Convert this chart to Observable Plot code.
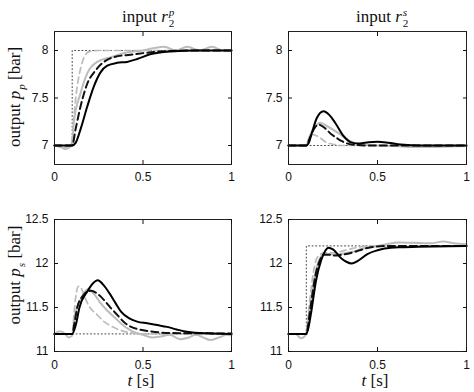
<!DOCTYPE html>
<html><head><meta charset="utf-8">
<script src="https://cdn.jsdelivr.net/npm/d3@7"></script>
<script src="https://cdn.jsdelivr.net/npm/@observablehq/plot@0.6"></script>
<style>
body{margin:0;background:#fff}
#fig{position:relative;width:474px;height:392px;overflow:hidden;background:#fff}
.panel{position:absolute}
.lbl{position:absolute;font-family:"Liberation Serif","Times New Roman",serif;font-size:17px;color:#111;white-space:nowrap;line-height:16px;height:16px}
.ss{display:inline-block;vertical-align:-0.5em;font-size:0.66em;line-height:1;margin-left:1px}
.ss span{display:block;line-height:1}
.it{font-style:italic}
</style></head>
<body><div id="fig"></div>
<script>
// ---- data (t [s], value) ----
const xTicks = [0, 0.5, 1];
const yTicksPp = [7, 7.5, 8];
const yTicksPs = [11, 11.5, 12, 12.5];
const domainPp = [6.8, 8.2];
const domainPs = [11, 12.5];

// Panel: input r2^p, output p_p
const refTL = [[0,7],[0.1,7],[0.1,8],[1,8]];
const blackTL = [[0,7],[0.1,7],[0.12,7.03],[0.147,7.17],[0.185,7.41],[0.222,7.62],[0.26,7.77],[0.298,7.84],[0.354,7.87],[0.41,7.88],[0.467,7.91],[0.54,7.96],[0.655,7.99],[0.8,8],[1,8]];
const blackDashTL = [[0,7],[0.1,7],[0.119,7.17],[0.147,7.41],[0.185,7.65],[0.232,7.79],[0.279,7.88],[0.335,7.93],[0.45,7.96],[0.6,7.99],[0.8,8],[1,8]];
const grayTL = [[0,7],[0.03,6.99],[0.062,6.96],[0.09,6.99],[0.1,7.05],[0.109,7.24],[0.147,7.55],[0.185,7.76],[0.241,7.88],[0.32,7.93],[0.41,7.98],[0.5,8.0],[0.55,8.02],[0.62,8.04],[0.685,8.0],[0.75,8.04],[0.82,8.0],[0.89,8.04],[0.95,8.0],[1,8.0]];
const grayDashTL = [[0,7],[0.05,6.98],[0.09,6.99],[0.1,7.05],[0.11,7.3],[0.12,7.5],[0.135,7.7],[0.15,7.83],[0.17,7.94],[0.2,7.99],[0.25,8],[1,8]];

// Panel: input r2^s, output p_p
const refTR = [[0,7],[1,7]];
const blackTR = [[0,7],[0.1,7],[0.112,7.02],[0.131,7.13],[0.159,7.29],[0.197,7.36],[0.23,7.32],[0.262,7.24],[0.309,7.1],[0.356,7.03],[0.4,7.02],[0.45,7.035],[0.5,7.04],[0.56,7.03],[0.63,7.01],[0.75,7.0],[1,7]];
const blackDashTR = [[0,7],[0.1,7],[0.12,7.08],[0.145,7.18],[0.169,7.22],[0.2,7.19],[0.234,7.13],[0.27,7.08],[0.3,7.045],[0.356,7.01],[0.45,7.0],[1,7]];
const grayTR = [[0,7],[0.1,7],[0.12,7.1],[0.15,7.2],[0.178,7.24],[0.22,7.2],[0.281,7.13],[0.346,7.045],[0.4,7.01],[0.5,7.0],[0.6,6.995],[0.7,6.985],[0.8,6.985],[0.9,6.99],[1,6.995]];
const grayDashTR = [[0,7],[0.1,7],[0.115,7.08],[0.137,7.115],[0.16,7.1],[0.178,7.08],[0.215,7.03],[0.26,7.01],[0.3,7.0],[1,7]];

// Panel: input r2^p, output p_s
const refBL = [[0,11.2],[1,11.2]];
const blackBL = [[0,11.2],[0.1,11.2],[0.12,11.3],[0.141,11.5],[0.188,11.69],[0.215,11.77],[0.245,11.81],[0.275,11.76],[0.311,11.66],[0.345,11.55],[0.377,11.45],[0.42,11.38],[0.467,11.34],[0.524,11.32],[0.58,11.3],[0.636,11.28],[0.69,11.25],[0.73,11.23],[0.82,11.21],[1,11.2]];
const blackDashBL = [[0,11.2],[0.1,11.2],[0.115,11.35],[0.131,11.52],[0.16,11.63],[0.185,11.68],[0.207,11.69],[0.24,11.66],[0.282,11.58],[0.32,11.49],[0.357,11.41],[0.395,11.33],[0.433,11.28],[0.48,11.25],[0.54,11.23],[0.65,11.21],[1,11.205]];
const grayBL = [[0,11.2],[0.03,11.23],[0.06,11.2],[0.08,11.16],[0.1,11.18],[0.113,11.39],[0.15,11.6],[0.188,11.71],[0.22,11.66],[0.264,11.54],[0.3,11.46],[0.339,11.39],[0.38,11.31],[0.414,11.26],[0.45,11.22],[0.5,11.19],[0.55,11.16],[0.6,11.17],[0.65,11.19],[0.71,11.14],[0.76,11.16],[0.8,11.19],[0.84,11.16],[0.88,11.13],[0.93,11.16],[0.975,11.19],[1,11.18]];
const grayDashBL = [[0,11.2],[0.1,11.2],[0.11,11.42],[0.12,11.62],[0.135,11.74],[0.15,11.72],[0.17,11.62],[0.2,11.5],[0.24,11.42],[0.28,11.34],[0.32,11.29],[0.36,11.25],[0.41,11.22],[0.5,11.2],[1,11.2]];

// Panel: input r2^s, output p_s
const refBR = [[0,11.2],[0.1,11.2],[0.1,12.2],[1,12.2]];
const blackBR = [[0,11.2],[0.1,11.2],[0.112,11.27],[0.127,11.44],[0.155,11.81],[0.184,12.04],[0.205,12.14],[0.225,12.18],[0.25,12.16],[0.296,12.06],[0.325,12.02],[0.355,12.0],[0.39,12.03],[0.446,12.11],[0.5,12.15],[0.539,12.17],[0.62,12.185],[0.73,12.19],[1,12.2]];
const blackDashBR = [[0,11.2],[0.1,11.2],[0.12,11.45],[0.15,11.85],[0.175,12.03],[0.2,12.1],[0.23,12.1],[0.26,12.09],[0.3,12.1],[0.35,12.12],[0.4,12.15],[0.45,12.18],[0.55,12.2],[1,12.2]];
const grayBR = [[0,11.2],[0.04,11.2],[0.07,11.15],[0.09,11.17],[0.1,11.22],[0.12,11.5],[0.15,11.88],[0.18,12.07],[0.2,12.11],[0.258,12.1],[0.3,12.11],[0.352,12.13],[0.42,12.17],[0.483,12.19],[0.55,12.22],[0.62,12.24],[0.7,12.235],[0.8,12.23],[0.87,12.25],[0.93,12.23],[1,12.22]];
const grayDashBR = [[0,11.2],[0.1,11.2],[0.115,11.5],[0.14,11.9],[0.165,12.08],[0.2,12.12],[0.25,12.12],[0.3,12.14],[0.38,12.18],[0.45,12.2],[1,12.2]];

// ---- drawing ----
const fig = document.getElementById("fig");
const X = d => d[0], Y = d => d[1];
const fmt = d => String(d);

function panel(ref, gDash, gSolid, bDash, bSolid, yDomain, yTicks, opts) {
  const svg = Plot.plot({
    width: 237, height: 196,
    marginLeft: opts.ml, marginRight: opts.mr, marginTop: opts.mt, marginBottom: opts.mb,
    x: {domain: [0, 1]},
    y: {domain: yDomain},
    style: {fontFamily: "'Liberation Sans', Arial, sans-serif", fontSize: "12px", color: "#111", background: "transparent", overflow: "visible"},
    marks: [
      Plot.line(ref, {x: X, y: Y, stroke: "#444", strokeWidth: 1, strokeDasharray: "1,2.6"}),
      Plot.line(gDash, {x: X, y: Y, stroke: "#bcbcbc", strokeWidth: 1.7, strokeDasharray: "6,4", curve: "monotone-x"}),
      Plot.line(gSolid, {x: X, y: Y, stroke: "#bcbcbc", strokeWidth: 2, curve: "monotone-x"}),
      Plot.line(bDash, {x: X, y: Y, stroke: "#111", strokeWidth: 2, strokeDasharray: "7,4", curve: "monotone-x"}),
      Plot.line(bSolid, {x: X, y: Y, stroke: "#000", strokeWidth: 2, curve: "monotone-x"}),
      Plot.frame({stroke: "#222", strokeWidth: 1}),
      Plot.axisX({ticks: xTicks, anchor: "bottom", tickSize: -4, tickPadding: opts.xpad, tickFormat: fmt, label: null}),
      Plot.axisX({ticks: xTicks, anchor: "top", tickSize: -4, tickFormat: () => "", label: null}),
      Plot.axisY({ticks: yTicks, anchor: "left", tickSize: -4, tickPadding: 10, tickFormat: fmt, label: null}),
      Plot.axisY({ticks: yTicks, anchor: "right", tickSize: -4, tickFormat: () => "", label: null})
    ]
  });
  svg.classList.add("panel");
  svg.style.left = opts.left + "px";
  svg.style.top = opts.top + "px";
  fig.appendChild(svg);
}

panel(refTL, grayDashTL, grayTL, blackDashTL, blackTL, domainPp, yTicksPp, {left: 0, top: 0, ml: 54, mr: 6, mt: 31, mb: 32, xpad: 12});
panel(refTR, grayDashTR, grayTR, blackDashTR, blackTR, domainPp, yTicksPp, {left: 237, top: 0, ml: 51, mr: 8, mt: 31, mb: 32, xpad: 12});
panel(refBL, grayDashBL, grayBL, blackDashBL, blackBL, domainPs, yTicksPs, {left: 0, top: 196, ml: 54, mr: 6, mt: 23, mb: 41, xpad: 13});
panel(refBR, grayDashBR, grayBR, blackDashBR, blackBR, domainPs, yTicksPs, {left: 237, top: 196, ml: 51, mr: 8, mt: 23, mb: 41, xpad: 13});

// ---- text labels ----
function label(html, cx, cy, rotate) {
  const d = document.createElement("div");
  d.className = "lbl";
  d.innerHTML = html;
  fig.appendChild(d);
  const w = d.offsetWidth;
  d.style.left = (cx - w / 2) + "px";
  d.style.top = (cy - 8) + "px";
  if (rotate) d.style.transform = "rotate(-90deg)";
}
label('input <span class="it">r</span><span class="ss"><span class="it">p</span><span>2</span></span>', 148, 15, false);
label('input <span class="it">r</span><span class="ss"><span class="it">s</span><span>2</span></span>', 382, 15, false);
label('output <span class="it">p</span><span class="ss"><span>&nbsp;</span><span class="it">p</span></span> [bar]', 13, 97, true);
label('output <span class="it">p</span><span class="ss"><span>&nbsp;</span><span class="it">s</span></span> [bar]', 13, 275, true);
label('<span class="it">t</span> [s]', 141, 381, false);
label('<span class="it">t</span> [s]', 375, 381, false);
</script>
</body></html>
